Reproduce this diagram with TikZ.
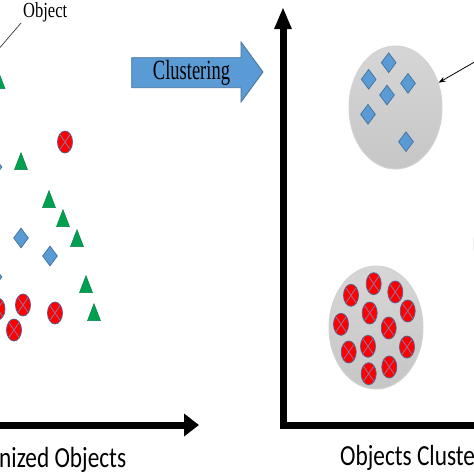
\documentclass[tikz,border=0pt]{standalone}
\usepackage{fontspec}
\usepackage{graphicx}
\usetikzlibrary{shapes.geometric,arrows.meta}

\newfontfamily\labelfont{Carlito}
\newfontfamily\serifont{Liberation Serif}

\definecolor{objred}{RGB}{255,0,0}
\definecolor{objredline}{RGB}{95,95,140}
\definecolor{objcross}{RGB}{150,105,150}
\definecolor{objgreen}{RGB}{0,160,80}
\definecolor{objgreenline}{RGB}{0,130,70}
\definecolor{objblue}{RGB}{91,155,213}
\definecolor{objblueline}{RGB}{65,113,156}
\definecolor{clusttop}{RGB}{214,214,214}
\definecolor{clustbottom}{RGB}{198,198,198}
\definecolor{clustline}{RGB}{210,210,210}

\tikzset{
  redobj/.style={ellipse, draw=objredline, line width=0.8pt, fill=objred,
    minimum width=15pt, minimum height=22pt, inner sep=0pt,
    path picture={\draw[objcross, line width=0.9pt]
      (path picture bounding box.north west) -- (path picture bounding box.south east)
      (path picture bounding box.north east) -- (path picture bounding box.south west);}},
  greenobj/.style={isosceles triangle, isosceles triangle stretches, shape border rotate=90,
    draw=objgreenline, line width=0.5pt, fill=objgreen,
    minimum width=13pt, minimum height=17pt, inner sep=0pt, anchor=apex},
  blueobj/.style={diamond, draw=objblueline, line width=0.7pt, fill=objblue,
    minimum width=15pt, minimum height=20pt, inner sep=0pt},
  cluster/.style={ellipse, draw=clustline, line width=1pt,
    top color=clusttop, bottom color=clustbottom, middle color=clusttop!50!clustbottom, inner sep=0pt},
  axisline/.style={line width=7pt, line join=miter},
}

\begin{document}
\begin{tikzpicture}[x=1pt, y=-1pt]

    % Fix the frame of the picture
    \useasboundingbox (0,0) rectangle (474,474);
    \clip (0,0) rectangle (474,474);

    % Label of a single object and its pointer
    \node[inner sep=0pt, anchor=base west] (objlabel) at (23,17)
      {\scalebox{1}[1.3]{\serifont\fontsize{16.5}{18}\selectfont Object}};
    \coordinate (objend) at (-3,51);
    \draw[line width=0.7pt, black!80] (21,23) -- (objend);

    % Unorganized objects in the left plot
    \foreach \x/\y [count=\i] in {65/142, 23/305, 55/313, 14/330, -2.5/309}
      \node[redobj] (lr\i) at (\x,\y) {};
    \foreach \x/\y [count=\i] in {-1.5/71, 21/152, 49/190, 63/209, 77/229, 86/275, 94/303}
      \node[greenobj] (lg\i) at (\x,\y) {};
    \foreach \x/\y [count=\i] in {21/238, 50/256, -5.5/167, -5.5/277}
      \node[blueobj] (lb\i) at (\x,\y) {};

    % Left x axis
    \coordinate (lxstart) at (-5,425);
    \coordinate (lxend) at (199,425);
    \draw[axisline, -{Triangle[length=15pt, width=22pt]}] (lxstart) -- (lxend);
    \node[inner sep=0pt, anchor=base west] (lxlabel) at (-1,467)
      {\scalebox{1}[1.25]{\labelfont\fontsize{23.3}{26}\selectfont nized Objects}};

    % Clustering block arrow
    \draw[fill=objblue, draw=objblueline, line width=0.8pt]
      (131.7,57.7) -- (241,57.7) -- (241,42) -- (263,72) -- (241,102) -- (241,87.7) -- (131.7,87.7) -- cycle;
    \node[inner sep=0pt] (clustlabel) at (191.5,73)
      {\scalebox{1}[1.5]{\serifont\fontsize{18.5}{20}\selectfont Clustering}};

    % Right axes
    \coordinate (ryend) at (283,7);
    \coordinate (rorigin) at (283,425);
    \coordinate (rxend) at (480,425);
    \draw[axisline, {Triangle[length=22pt, width=16pt]}-] (ryend) -- (rorigin) -- (rxend);
    \node[inner sep=0pt, anchor=base west] (rxlabel) at (340,465)
      {\scalebox{1}[1.25]{\labelfont\fontsize{23.3}{26}\selectfont Objects Cluste}};

    % Clusters in the right plot
    \node[cluster, minimum width=93pt, minimum height=123pt] (cluA) at (395.5,107.5) {};
    \node[cluster, minimum width=94pt, minimum height=123pt] (cluB) at (376,327.5) {};
    \node[cluster, minimum width=96pt, minimum height=120pt] (cluC) at (522,244) {};

    \foreach \x/\y [count=\i] in {388.7/62.7, 368.7/79.3, 408/83.3, 387/95, 368/114.3, 406/141.7}
      \node[blueobj] (cb\i) at (\x,\y) {};
    \foreach \x/\y [count=\i] in {373.7/283.7, 351/295.3, 395.3/292, 369.7/313, 407.7/311, 341/324.3,
                                  388.7/328, 368/346.3, 407/347, 348.7/352, 389.3/367, 368.7/373.7}
      \node[redobj] (cr\i) at (\x,\y) {};

    % Pointer to the first cluster
    \coordinate (clustpointer) at (478,60);
    \draw[line width=0.8pt, -{Stealth[length=7pt, width=5pt]}] (clustpointer) -- (cluA);

\end{tikzpicture}
\end{document}
